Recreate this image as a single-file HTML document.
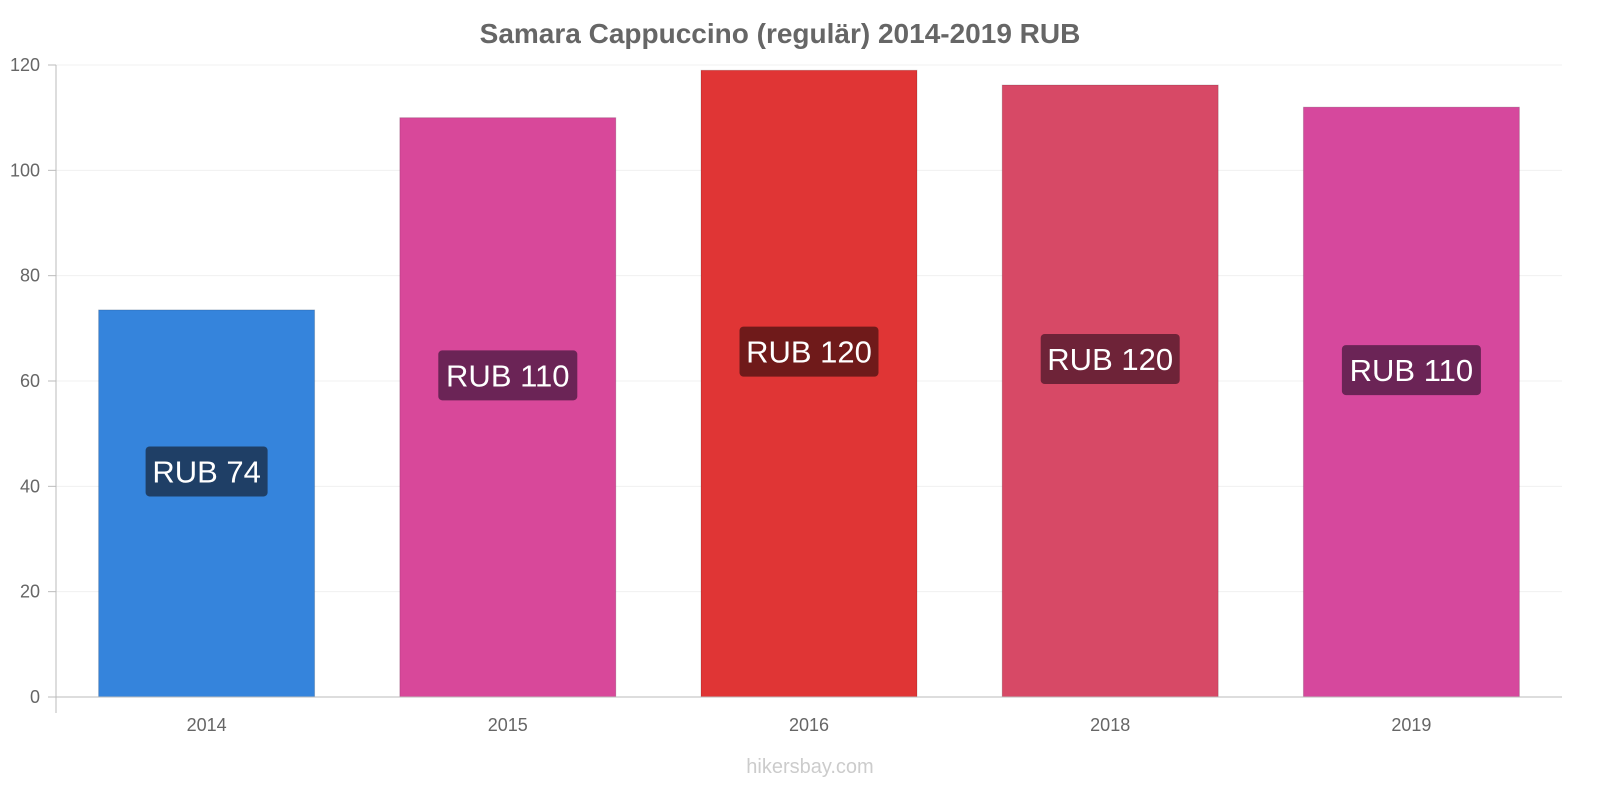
<!DOCTYPE html>
<html><head><meta charset="utf-8"><style>
html,body{margin:0;padding:0;background:#fff;font-family:"Liberation Sans",sans-serif;overflow:hidden;width:1600px;height:800px;}
svg{display:block;}
svg text{font-family:"Liberation Sans",sans-serif;}
</style></head><body>
<svg width="1600" height="800" viewBox="0 0 1600 800" id="chart">
<text x="780" y="43" text-anchor="middle" font-size="28" font-weight="bold" fill="#666">Samara Cappuccino (regulär) 2014-2019 RUB</text>
<g id="grid"></g><g id="bars"></g><g id="labels"></g><g id="axes"></g>
<text x="810" y="773" text-anchor="middle" font-size="20" fill="#ccc">hikersbay.com</text>
</svg>
<script>
const categories=["2014","2015","2016","2018","2019"];
const values=[73.5,110,119,116.2,112];
const valueLabels=["RUB 74","RUB 110","RUB 120","RUB 120","RUB 110"];
const yTicks=[0,20,40,80,60,100,120];
const colors=["#3584dc","#d8489a","#e03535","#d74966","#d6489d"];
const labelBg=["#1f3f66","#6b2456","#6f1a1a","#6e2338","#6b2456"];
const NS="http://www.w3.org/2000/svg";
const x0=56,x1=1562,y0=697,y120=65;
const y=v=>y0-(v/120)*(y0-y120);
const band=(x1-x0)/categories.length;
const xc=i=>x0+band*(i+0.5);
function mk(t,a,p){const e=document.createElementNS(NS,t);for(const k in a)e.setAttribute(k,a[k]);p.appendChild(e);return e;}
const grid=document.getElementById('grid'),bars=document.getElementById('bars'),labels=document.getElementById('labels'),axes=document.getElementById('axes');
yTicks.forEach(t=>{
 const l=mk('line',{x1:x0,x2:x1,y1:y(t),y2:y(t),stroke:'#f0f0f0'},grid);
 
 
 const tk=mk('line',{x1:x0-8,x2:x0,y1:y(t),y2:y(t),stroke:'#bbb'},axes);
 
 
 const tx=mk('text',{x:x0-16,y:y(t)+6,'text-anchor':'end','font-size':18,fill:'#666'},axes);
 tx.textContent=t;
 
 
});
const ya=mk('line',{x1:x0,x2:x0,y1:y120,y2:y0+16,stroke:'#bbb'},axes);


const xa=mk('line',{x1:x0,x2:x1,y1:y0,y2:y0,stroke:'#bbb'},axes);


categories.forEach((c,i)=>{
 const bw=216,top=y(values[i]);
 const r=mk('rect',{x:xc(i)-bw/2,y:top,width:bw,height:y0-top,fill:colors[i],stroke:'rgba(0,0,0,0.15)'},bars);
 
 
 const tx=mk('text',{x:xc(i),y:731,'text-anchor':'middle','font-size':18,fill:'#666'},axes);
 tx.textContent=c;
 
 
 const ly=(top+y0)/2-32;
 const w=valueLabels[i].length*17+20;
 const bg=mk('rect',{x:xc(i)-w/2,y:ly-25,width:w,height:50,rx:4,fill:labelBg[i]},labels);
 
 
 const lt=mk('text',{x:xc(i),y:ly+11,'text-anchor':'middle','font-size':31,fill:'#fff'},labels);
 lt.textContent=valueLabels[i];
 
 
});
</script>
</body></html>
